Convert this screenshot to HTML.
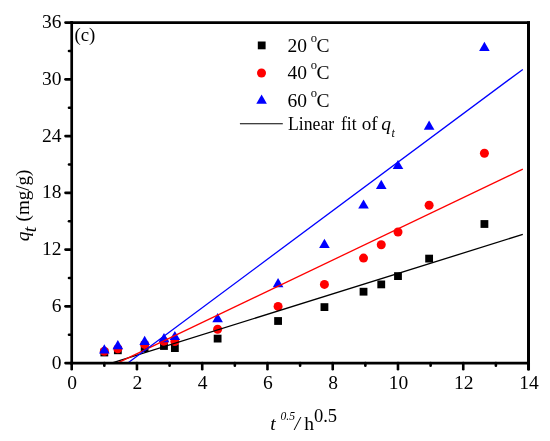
<!DOCTYPE html>
<html><head><meta charset="utf-8"><title>q_t vs t^0.5</title>
<style>
html,body{margin:0;padding:0;background:#fff;}
body{width:550px;height:441px;overflow:hidden;}
svg{display:block;}
.t{font-family:"Liberation Serif","Times New Roman",serif;font-size:19.5px;fill:#000;}
.i{font-style:italic;}
</style></head>
<body>
<svg width="550" height="441" viewBox="0 0 550 441">
<rect width="550" height="441" fill="#fff"/>
<rect x="100.43" y="348.60" width="7.8" height="7.8" fill="#000"/>
<rect x="113.94" y="346.40" width="7.8" height="7.8" fill="#000"/>
<rect x="140.76" y="344.20" width="7.8" height="7.8" fill="#000"/>
<rect x="160.07" y="342.10" width="7.8" height="7.8" fill="#000"/>
<rect x="170.97" y="344.20" width="7.8" height="7.8" fill="#000"/>
<rect x="213.72" y="334.70" width="7.8" height="7.8" fill="#000"/>
<rect x="274.18" y="317.10" width="7.8" height="7.8" fill="#000"/>
<rect x="320.54" y="303.20" width="7.8" height="7.8" fill="#000"/>
<rect x="359.63" y="287.80" width="7.8" height="7.8" fill="#000"/>
<rect x="377.35" y="280.50" width="7.8" height="7.8" fill="#000"/>
<rect x="394.09" y="272.20" width="7.8" height="7.8" fill="#000"/>
<rect x="425.22" y="254.70" width="7.8" height="7.8" fill="#000"/>
<rect x="480.52" y="220.10" width="7.8" height="7.8" fill="#000"/>
<circle cx="104.33" cy="351.20" r="4.5" fill="#f00"/>
<circle cx="117.84" cy="348.80" r="4.5" fill="#f00"/>
<circle cx="144.66" cy="344.40" r="4.5" fill="#f00"/>
<circle cx="163.97" cy="341.20" r="4.5" fill="#f00"/>
<circle cx="174.87" cy="341.50" r="4.5" fill="#f00"/>
<circle cx="217.62" cy="329.30" r="4.5" fill="#f00"/>
<circle cx="278.08" cy="306.40" r="4.5" fill="#f00"/>
<circle cx="324.44" cy="284.40" r="4.5" fill="#f00"/>
<circle cx="363.53" cy="258.10" r="4.5" fill="#f00"/>
<circle cx="381.25" cy="244.70" r="4.5" fill="#f00"/>
<circle cx="397.99" cy="232.00" r="4.5" fill="#f00"/>
<circle cx="429.12" cy="205.30" r="4.5" fill="#f00"/>
<circle cx="484.42" cy="153.20" r="4.5" fill="#f00"/>
<polygon points="104.33,344.30 109.63,353.50 99.03,353.50" fill="#00f"/>
<polygon points="117.84,340.10 123.14,349.30 112.54,349.30" fill="#00f"/>
<polygon points="144.66,335.80 149.96,345.00 139.36,345.00" fill="#00f"/>
<polygon points="163.97,333.00 169.27,342.20 158.67,342.20" fill="#00f"/>
<polygon points="174.87,330.90 180.17,340.10 169.57,340.10" fill="#00f"/>
<polygon points="217.62,313.00 222.92,322.20 212.32,322.20" fill="#00f"/>
<polygon points="278.08,278.10 283.38,287.30 272.78,287.30" fill="#00f"/>
<polygon points="324.44,238.70 329.74,247.90 319.14,247.90" fill="#00f"/>
<polygon points="363.53,199.40 368.83,208.60 358.23,208.60" fill="#00f"/>
<polygon points="381.25,179.80 386.55,189.00 375.95,189.00" fill="#00f"/>
<polygon points="397.99,159.90 403.29,169.10 392.69,169.10" fill="#00f"/>
<polygon points="429.12,120.60 434.42,129.80 423.82,129.80" fill="#00f"/>
<polygon points="484.42,41.80 489.72,51.00 479.12,51.00" fill="#00f"/>
<line x1="113" y1="362.70000000000005" x2="522.8" y2="234.4" stroke="#000" stroke-width="1.3"/>
<line x1="118.3" y1="362.70000000000005" x2="522.8" y2="169.1" stroke="#f00" stroke-width="1.3"/>
<line x1="128.2" y1="362.70000000000005" x2="522.8" y2="69.4" stroke="#00f" stroke-width="1.3"/>
<line x1="71.7" y1="21.3" x2="71.7" y2="364.40000000000003" stroke="#000" stroke-width="2.7"/>
<line x1="528.5" y1="21.3" x2="528.5" y2="364.40000000000003" stroke="#000" stroke-width="3.0"/>
<line x1="70.4" y1="22.6" x2="530.0" y2="22.6" stroke="#000" stroke-width="2.6"/>
<line x1="70.4" y1="363.1" x2="530.0" y2="363.1" stroke="#000" stroke-width="2.7"/>
<line x1="65.50" y1="363.10" x2="71.7" y2="363.10" stroke="#000" stroke-width="2.6" stroke-linecap="round"/>
<line x1="69.00" y1="334.73" x2="71.7" y2="334.73" stroke="#000" stroke-width="2.6" stroke-linecap="round"/>
<line x1="65.50" y1="306.35" x2="71.7" y2="306.35" stroke="#000" stroke-width="2.6" stroke-linecap="round"/>
<line x1="69.00" y1="277.98" x2="71.7" y2="277.98" stroke="#000" stroke-width="2.6" stroke-linecap="round"/>
<line x1="65.50" y1="249.60" x2="71.7" y2="249.60" stroke="#000" stroke-width="2.6" stroke-linecap="round"/>
<line x1="69.00" y1="221.23" x2="71.7" y2="221.23" stroke="#000" stroke-width="2.6" stroke-linecap="round"/>
<line x1="65.50" y1="192.86" x2="71.7" y2="192.86" stroke="#000" stroke-width="2.6" stroke-linecap="round"/>
<line x1="69.00" y1="164.48" x2="71.7" y2="164.48" stroke="#000" stroke-width="2.6" stroke-linecap="round"/>
<line x1="65.50" y1="136.11" x2="71.7" y2="136.11" stroke="#000" stroke-width="2.6" stroke-linecap="round"/>
<line x1="69.00" y1="107.73" x2="71.7" y2="107.73" stroke="#000" stroke-width="2.6" stroke-linecap="round"/>
<line x1="65.50" y1="79.36" x2="71.7" y2="79.36" stroke="#000" stroke-width="2.6" stroke-linecap="round"/>
<line x1="69.00" y1="50.99" x2="71.7" y2="50.99" stroke="#000" stroke-width="2.6" stroke-linecap="round"/>
<line x1="65.50" y1="22.61" x2="71.7" y2="22.61" stroke="#000" stroke-width="2.6" stroke-linecap="round"/>
<line x1="71.70" y1="363.1" x2="71.70" y2="369.30" stroke="#000" stroke-width="2.6" stroke-linecap="round"/>
<line x1="104.33" y1="363.1" x2="104.33" y2="365.80" stroke="#000" stroke-width="2.6" stroke-linecap="round"/>
<line x1="136.96" y1="363.1" x2="136.96" y2="369.30" stroke="#000" stroke-width="2.6" stroke-linecap="round"/>
<line x1="169.59" y1="363.1" x2="169.59" y2="365.80" stroke="#000" stroke-width="2.6" stroke-linecap="round"/>
<line x1="202.22" y1="363.1" x2="202.22" y2="369.30" stroke="#000" stroke-width="2.6" stroke-linecap="round"/>
<line x1="234.84" y1="363.1" x2="234.84" y2="365.80" stroke="#000" stroke-width="2.6" stroke-linecap="round"/>
<line x1="267.47" y1="363.1" x2="267.47" y2="369.30" stroke="#000" stroke-width="2.6" stroke-linecap="round"/>
<line x1="300.10" y1="363.1" x2="300.10" y2="365.80" stroke="#000" stroke-width="2.6" stroke-linecap="round"/>
<line x1="332.73" y1="363.1" x2="332.73" y2="369.30" stroke="#000" stroke-width="2.6" stroke-linecap="round"/>
<line x1="365.36" y1="363.1" x2="365.36" y2="365.80" stroke="#000" stroke-width="2.6" stroke-linecap="round"/>
<line x1="397.99" y1="363.1" x2="397.99" y2="369.30" stroke="#000" stroke-width="2.6" stroke-linecap="round"/>
<line x1="430.62" y1="363.1" x2="430.62" y2="365.80" stroke="#000" stroke-width="2.6" stroke-linecap="round"/>
<line x1="463.25" y1="363.1" x2="463.25" y2="369.30" stroke="#000" stroke-width="2.6" stroke-linecap="round"/>
<line x1="495.88" y1="363.1" x2="495.88" y2="365.80" stroke="#000" stroke-width="2.6" stroke-linecap="round"/>
<line x1="528.51" y1="363.1" x2="528.51" y2="369.30" stroke="#000" stroke-width="3.0" stroke-linecap="round"/>
<text x="61.5" y="368.60" text-anchor="end" class="t">0</text>
<text x="61.5" y="311.85" text-anchor="end" class="t">6</text>
<text x="61.5" y="255.10" text-anchor="end" class="t">12</text>
<text x="61.5" y="198.36" text-anchor="end" class="t">18</text>
<text x="61.5" y="141.61" text-anchor="end" class="t">24</text>
<text x="61.5" y="84.86" text-anchor="end" class="t">30</text>
<text x="61.5" y="28.11" text-anchor="end" class="t">36</text>
<text x="72.10" y="388.6" text-anchor="middle" class="t">0</text>
<text x="137.36" y="388.6" text-anchor="middle" class="t">2</text>
<text x="202.62" y="388.6" text-anchor="middle" class="t">4</text>
<text x="267.87" y="388.6" text-anchor="middle" class="t">6</text>
<text x="333.13" y="388.6" text-anchor="middle" class="t">8</text>
<text x="398.39" y="388.6" text-anchor="middle" class="t">10</text>
<text x="463.65" y="388.6" text-anchor="middle" class="t">12</text>
<text x="528.91" y="388.6" text-anchor="middle" class="t">14</text>
<text x="74.4" y="41.1" class="t" textLength="20.9" lengthAdjust="spacingAndGlyphs">(c)</text>
<rect x="257.80" y="41.50" width="7.8" height="7.8" fill="#000"/>
<circle cx="261.50" cy="73.00" r="4.5" fill="#f00"/>
<polygon points="261.60,94.60 266.90,103.80 256.30,103.80" fill="#00f"/>
<line x1="239.9" y1="123.8" x2="282.8" y2="123.8" stroke="#000" stroke-width="1.1"/>
<text x="287.6" y="51.6" class="t">20</text>
<text x="310.8" y="41.8" class="t" style="font-size:12.6px">o</text>
<text x="316.5" y="51.6" class="t">C</text>
<text x="287.6" y="79" class="t">40</text>
<text x="310.8" y="69.2" class="t" style="font-size:12.6px">o</text>
<text x="316.5" y="79" class="t">C</text>
<text x="287.6" y="106.6" class="t">60</text>
<text x="310.8" y="96.8" class="t" style="font-size:12.6px">o</text>
<text x="316.5" y="106.6" class="t">C</text>
<text x="288" y="129.7" class="t" textLength="46.2" lengthAdjust="spacingAndGlyphs">Linear</text>
<text x="341" y="129.7" class="t" textLength="15.6" lengthAdjust="spacingAndGlyphs">fit</text>
<text x="361.7" y="129.7" class="t" textLength="16" lengthAdjust="spacingAndGlyphs">of</text>
<text x="381.2" y="129.7" class="t i">q</text>
<text x="391.6" y="137.1" class="t i" style="font-size:12px">t</text>
<text x="270.3" y="429.7" class="t i">t</text>
<text x="280.5" y="419.7" class="t i" style="font-size:11.6px">0.5</text>
<text x="294.6" y="429.9" class="t i">/</text>
<text x="304.2" y="429.7" class="t">h</text>
<text x="313.9" y="421.9" class="t" textLength="23.2" lengthAdjust="spacingAndGlyphs">0.5</text>
<text transform="translate(28.7,241.2) rotate(-90)" class="t i">q</text>
<text transform="translate(35.6,232.2) rotate(-90)" class="t i">t</text>
<text transform="translate(28.7,221.4) rotate(-90)" class="t" textLength="51.8" lengthAdjust="spacingAndGlyphs">(mg/g)</text>
</svg>
</body></html>
